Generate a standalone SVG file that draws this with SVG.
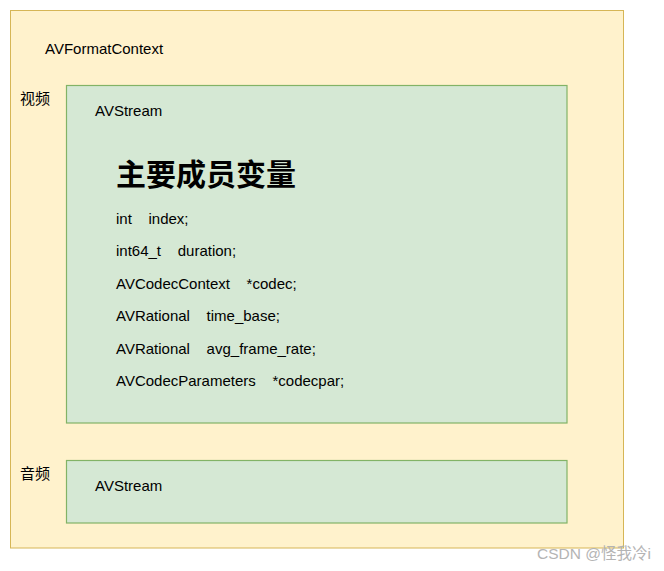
<svg xmlns="http://www.w3.org/2000/svg" width="664" height="571" viewBox="0 0 664 571">
<style>
.outer{fill:#fff2cc;stroke:#d6b656;stroke-width:1}
.box{fill:#d5e8d4;stroke:#82b366;stroke-width:1.2}
.t{font-family:"Liberation Sans","Noto Sans CJK SC",Arial,sans-serif;font-size:15px;fill:#000;white-space:pre}
.h{font-family:"Liberation Sans","Noto Sans CJK SC",sans-serif;font-size:30px;font-weight:bold;fill:#000}
.wm{font-family:"Liberation Sans","Noto Sans CJK SC",sans-serif;font-size:15.5px;fill:#b4b4b4}
</style>
<rect width="664" height="571" fill="#ffffff"/>
<g id="avformatcontext">
<rect class="outer" x="10.5" y="10.5" width="613" height="537.5"/>
<text class="t" x="45" y="54">AVFormatContext</text>
</g>
<g id="label-video"><text class="t" x="20" y="104">视频</text></g>
<g id="video-stream">
<rect class="box" x="66.5" y="85.5" width="500.5" height="337.5"/>
<text class="t" x="95" y="116">AVStream</text>
<text class="h" x="116" y="185">主要成员变量</text>
<text class="t" x="116" y="224" xml:space="preserve">int    index;</text>
<text class="t" x="116" y="256" xml:space="preserve">int64_t    duration;</text>
<text class="t" x="116" y="289" xml:space="preserve">AVCodecContext    *codec;</text>
<text class="t" x="116" y="321" xml:space="preserve">AVRational    time_base;</text>
<text class="t" x="116" y="354" xml:space="preserve">AVRational    avg_frame_rate;</text>
<text class="t" x="116" y="386" xml:space="preserve">AVCodecParameters    *codecpar;</text>
</g>
<g id="label-audio"><text class="t" x="20" y="479">音频</text></g>
<g id="audio-stream">
<rect class="box" x="66.5" y="460.5" width="500.5" height="62.5"/>
<text class="t" x="95" y="491">AVStream</text>
</g>
<g id="connectors"></g>
<text class="wm" x="537" y="559">CSDN @怪我冷i</text>
</svg>
